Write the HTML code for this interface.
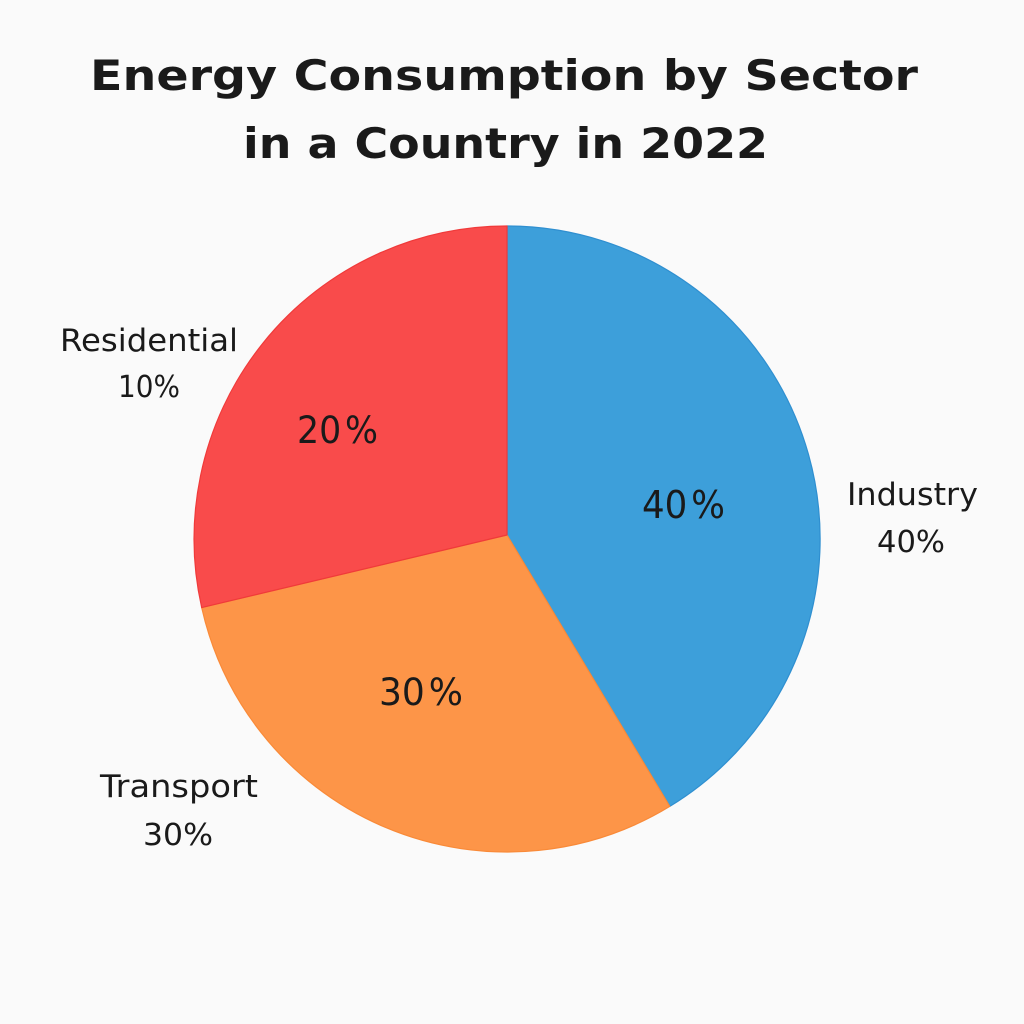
<!DOCTYPE html>
<html>
<head>
<meta charset="utf-8">
<style>
  html, body { margin: 0; padding: 0; background: #fafafa; }
  svg { display: block; }
  text { font-family: "DejaVu Sans", "Liberation Sans", sans-serif; fill: #1a1a1a; }
</style>
</head>
<body>
<svg width="1024" height="1024" viewBox="0 0 1024 1024" xmlns="http://www.w3.org/2000/svg">
  <rect width="1024" height="1024" fill="#fafafa"/>

  <!-- Title -->
  <text x="90" y="90" font-size="42" font-weight="bold" textLength="828" lengthAdjust="spacingAndGlyphs">Energy Consumption by Sector</text>
  <text x="243" y="158" font-size="42" font-weight="bold" textLength="525" lengthAdjust="spacingAndGlyphs">in a Country in 2022</text>

  <!-- Pie slices -->
  <path d="M507 535 L507 226 A313 313 0 0 1 669.8 806.4 Z" fill="#3d9fda" stroke="#2f8fd0" stroke-width="1.2" stroke-linejoin="round"/>
  <path d="M507 535 L669.8 806.4 A313 313 0 0 1 201.7 607.6 Z" fill="#fd9548" stroke="#f98a38" stroke-width="1.2" stroke-linejoin="round"/>
  <path d="M507 535 L201.7 607.6 A313 313 0 0 1 507 226 Z" fill="#f94b4b" stroke="#f03a3a" stroke-width="1.2" stroke-linejoin="round"/>

  <!-- Inner percentages -->
  <text x="297" y="443" font-size="37" textLength="81" lengthAdjust="spacingAndGlyphs">20<tspan dx="4">%</tspan></text>
  <text x="642" y="518" font-size="38" textLength="83" lengthAdjust="spacingAndGlyphs">40<tspan dx="4">%</tspan></text>
  <text x="379" y="705" font-size="37" textLength="84" lengthAdjust="spacingAndGlyphs">30<tspan dx="4">%</tspan></text>

  <!-- Outer labels -->
  <text x="60" y="351" font-size="31" textLength="178" lengthAdjust="spacingAndGlyphs">Residential</text>
  <text x="118" y="397" font-size="30" textLength="62" lengthAdjust="spacingAndGlyphs">10%</text>

  <text x="847" y="505" font-size="31" textLength="131" lengthAdjust="spacingAndGlyphs">Industry</text>
  <text x="877" y="552" font-size="30" textLength="68" lengthAdjust="spacingAndGlyphs">40%</text>

  <text x="100" y="797" font-size="31" textLength="158" lengthAdjust="spacingAndGlyphs">Transport</text>
  <text x="143" y="845" font-size="30" textLength="70" lengthAdjust="spacingAndGlyphs">30%</text>
</svg>
</body>
</html>
